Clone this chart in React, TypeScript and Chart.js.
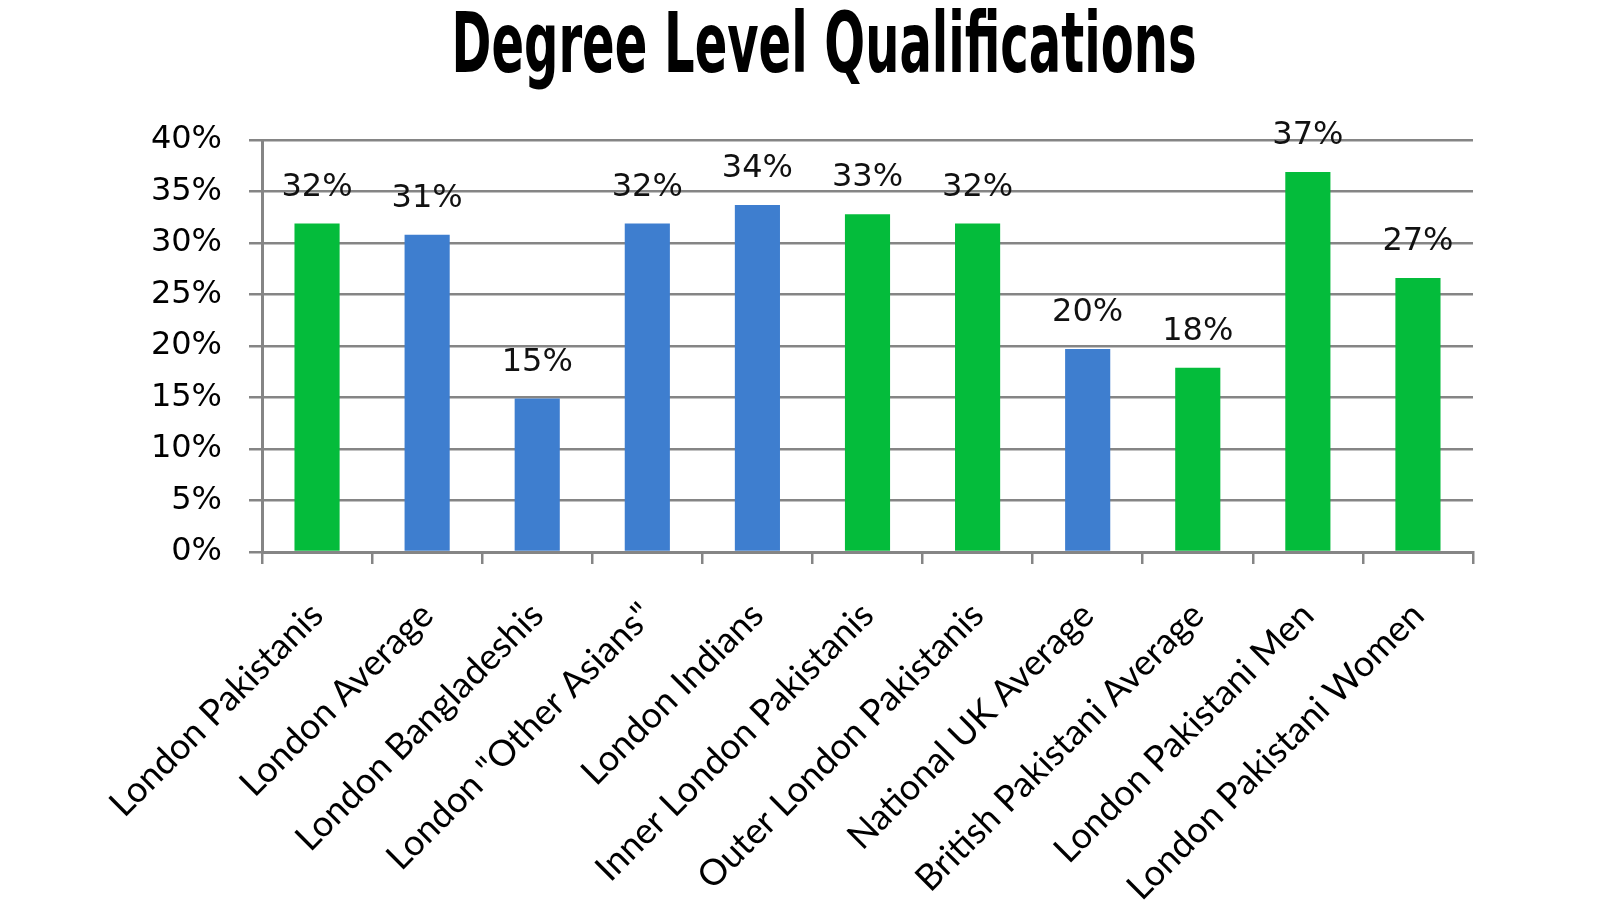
import React, { useEffect, useRef } from "react";
import { Chart, registerables } from "chart.js";

Chart.register(...registerables);

const chartTitle = "Degree Level Qualifications";
const categories = [
  "London Pakistanis",
  "London Average",
  "London Bangladeshis",
  'London "Other Asians"',
  "London Indians",
  "Inner London Pakistanis",
  "Outer London Pakistanis",
  "National UK Average",
  "British Pakistani Average",
  "London Pakistani Men",
  "London Pakistani Women",
];
const values = [31.9, 30.8, 14.9, 31.9, 33.7, 32.8, 31.9, 19.7, 17.9, 36.9, 26.6];
const isPakistaniGroup = [true, false, false, false, false, true, true, false, true, true, true];
const yTicks = [0, 5, 10, 15, 20, 25, 30, 35, 40];

const GREEN = "#04BC3B";
const BLUE = "#3E7ECF";
const GRID = "#858585";

const valueLabels = {
  id: "valueLabels",
  afterDatasetsDraw(chart: any) {
    const ctx = chart.ctx;
    const meta = chart.getDatasetMeta(0);
    ctx.save();
    ctx.font = '32px "DejaVu Sans", Verdana, sans-serif';
    ctx.fillStyle = "#111111";
    ctx.textAlign = "center";
    ctx.textBaseline = "middle";
    meta.data.forEach((bar: any, i: number) => {
      const v = chart.data.datasets[0].data[i] as number;
      ctx.fillText(Math.round(v) + "%", bar.x, bar.y - 36);
    });
    ctx.restore();
  },
};

const condensedTitle = {
  id: "condensedTitle",
  afterDraw(chart: any) {
    const ctx = chart.ctx;
    ctx.save();
    ctx.font = 'bold 84px "DejaVu Sans Condensed", "DejaVu Sans", sans-serif';
    ctx.fillStyle = "#000000";
    ctx.textAlign = "center";
    ctx.textBaseline = "alphabetic";
    const w = ctx.measureText(chartTitle).width;
    const sx = 745 / w;
    ctx.translate(chart.width / 2 + 24, 72);
    ctx.scale(sx, 1);
    ctx.fillText(chartTitle, 0, 0);
    ctx.restore();
  },
};

export default function App() {
  const canvasRef = useRef<HTMLCanvasElement | null>(null);

  useEffect(() => {
    if (!canvasRef.current) return;
    const chart = new Chart(canvasRef.current, {
      type: "bar",
      data: {
        labels: categories,
        datasets: [
          {
            data: values,
            backgroundColor: isPakistaniGroup.map((p) => (p ? GREEN : BLUE)),
            borderWidth: 0,
            barPercentage: 0.41,
            categoryPercentage: 1,
          },
        ],
      },
      options: {
        responsive: false,
        animation: false,
        devicePixelRatio: 1,
        layout: { padding: { left: 60, right: 127, top: 140, bottom: 0 } },
        plugins: {
          legend: { display: false },
          tooltip: { enabled: false },
          title: { display: false },
        },
        scales: {
          x: {
            grid: {
              display: true,
              drawOnChartArea: false,
              drawTicks: true,
              tickLength: 12,
              color: GRID,
              lineWidth: 2.5,
              offset: true,
            },
            border: { display: true, color: GRID, width: 3 },
            ticks: {
              autoSkip: false,
              maxRotation: 45,
              minRotation: 45,
              padding: 30,
              color: "#000000",
              font: { family: "Lato, Carlito, sans-serif", size: 36 },
            },
            afterFit: (scale: any) => {
              scale.height = 348;
            },
          },
          y: {
            min: 0,
            max: 40,
            afterBuildTicks: (scale: any) => {
              scale.ticks = yTicks.map((v) => ({ value: v }));
            },
            grid: {
              color: GRID,
              lineWidth: 2.5,
              drawTicks: true,
              tickLength: 13,
            },
            border: { display: true, color: GRID, width: 3 },
            ticks: {
              padding: 27,
              color: "#000000",
              font: { family: '"DejaVu Sans", Verdana, sans-serif', size: 32 },
              callback: (v: any) => v + "%",
            },
            afterFit: (scale: any) => {
              scale.width = 202;
            },
          },
        },
      },
      plugins: [valueLabels, condensedTitle],
    });
    return () => chart.destroy();
  }, []);

  return (
    <div style={{ position: "absolute", left: 0, top: 0, width: 1600, height: 900, background: "#ffffff", overflow: "hidden" }}>
      <canvas ref={canvasRef} width={1600} height={900} style={{ display: "block" }} />
    </div>
  );
}
